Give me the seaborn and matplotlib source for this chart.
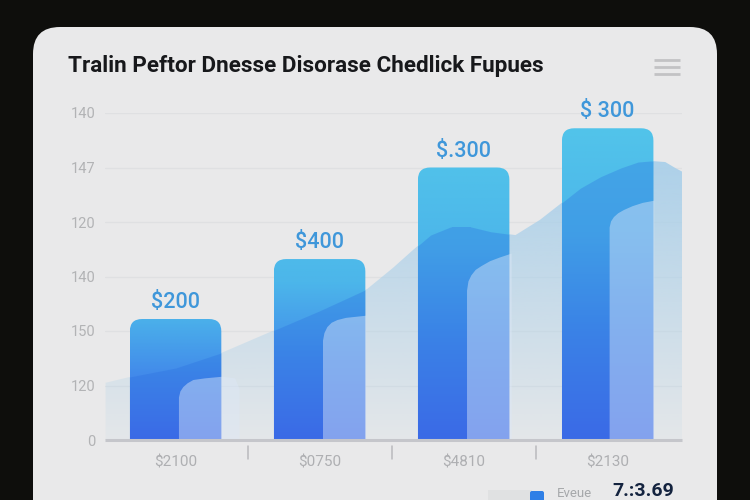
import numpy as np
import matplotlib
matplotlib.use("Agg")
import matplotlib.pyplot as plt
from matplotlib.colors import LinearSegmentedColormap, to_rgb
from matplotlib.patches import FancyBboxPatch
import seaborn as sns

title = "Tralin Peftor Dnesse Disorase Chedlick Fupues"
categories = ["$2100", "$0750", "$4810", "$2130"]
bar_values = [2.22, 3.32, 5.0, 5.72]
bar_labels = ["$200", "$400", "$.300", "$ 300"]
y_tick_labels = ["0", "120", "150", "140", "120", "147", "140"]

area_x = [-.486, -.3125, 0, .32, .69, 1.0, 1.33, 1.51, 1.65, 1.77, 1.91, 2.05, 2.19,
          2.36, 2.53, 2.69, 2.81, 2.95, 3.09, 3.21, 3.30, 3.40, 3.47, 3.52]
area_y = [1.05, 1.16, 1.32, 1.60, 2.02, 2.37, 2.77, 3.16, 3.49, 3.76, 3.91, 3.91, 3.82,
          3.76, 4.04, 4.37, 4.62, 4.83, 4.99, 5.10, 5.12, 5.10, 4.99, 4.92]

pale_x = [[.02, .03, .05, .08, .12, .20, .32, .41, .44],
          [1.02, 1.03, 1.05, 1.08, 1.12, 1.18, 1.25, 1.32],
          [2.02, 2.03, 2.05, 2.08, 2.12, 2.18, 2.25, 2.33],
          [3.01, 3.02, 3.04, 3.07, 3.11, 3.17, 3.24, 3.32]]
pale_y = [[.79, .90, .98, 1.05, 1.11, 1.14, 1.17, 1.14, .95],
          [1.83, 1.97, 2.08, 2.16, 2.21, 2.25, 2.27, 2.29],
          [2.75, 2.92, 3.03, 3.13, 3.20, 3.29, 3.36, 3.43],
          [3.91, 4.02, 4.10, 4.17, 4.23, 4.30, 4.36, 4.40]]

CARD = "#e9e9ea"
sns.set_theme(style="white")
plt.rcParams["font.family"] = ["Roboto", "DejaVu Sans"]

fig = plt.figure(figsize=(7.5, 5), dpi=100, facecolor="#0e0e0c")

# page furniture, in pixel coordinates
bg = fig.add_axes([0, 0, 1, 1], zorder=0)
bg.set_xlim(0, 750)
bg.set_ylim(500, 0)
bg.axis("off")
bg.add_patch(FancyBboxPatch((33, 27), 684, 520, boxstyle="round,pad=0,rounding_size=27",
                            fc=CARD, ec="none"))
for yy in (60, 67, 74):
    bg.plot([654, 680], [yy, yy], color="#c2c2c4", lw=2.0, solid_capstyle="butt")
bg.text(68, 66, title, fontsize=16.2, fontweight="bold", color="#17181b", va="center", ha="left")
bg.add_patch(plt.Rectangle((488, 490), 44, 12, fc="#e0e1e2", ec="none"))
bg.add_patch(FancyBboxPatch((530, 491), 14, 14, boxstyle="round,pad=0,rounding_size=2",
                            fc="#2f7fe6", ec="none"))
bg.text(557, 493.5, "Eveue", fontsize=9.5, color="#a6a8ab", va="center", ha="left")
bg.text(612, 491.5, "7.:3.69", fontsize=14, fontweight="bold", color="#14233f", va="center", ha="left")

ax = fig.add_axes([105 / 750, 60 / 500, 577 / 750, 327 / 500], zorder=1)
ax.patch.set_alpha(0)
sns.barplot(x=categories, y=bar_values, width=.635, color="#3d8be6", ax=ax, saturation=1)
xlim = (-.49, 3.516)
ylim = (0, 6)
ax.set_xlim(xlim)
ax.set_ylim(ylim)
ax.set_ylabel("")
ax.set_yticks(range(len(y_tick_labels)), y_tick_labels)
ax.tick_params(axis="y", length=0, pad=7, labelsize=10.5, labelcolor="#b2b3b5")
ax.tick_params(axis="x", length=0, pad=11, labelsize=11, labelcolor="#aeafb2")
ax.grid(axis="y", color="#dfe0e2", lw=.9)
ax.set_axisbelow(True)
sns.despine(ax=ax, left=True)
ax.spines["bottom"].set_color("#c5c6cb")
ax.spines["bottom"].set_linewidth(2.2)
ax.spines["bottom"].set_capstyle("butt")
ax.spines["bottom"].set_zorder(8)

# back area with a vertical fade
grad = np.zeros((256, 1, 4))
grad[..., :3] = to_rgb("#a9cfe9")
grad[..., 3] = np.linspace(.95, .08, 256)[:, None]
area_im = ax.imshow(grad, extent=(xlim[0], xlim[1], 0, 5.2), aspect="auto", zorder=1.5)
area_poly = ax.fill_between(area_x, 0, area_y, color="none", lw=0)
area_im.set_clip_path(area_poly.get_paths()[0], ax.transData)

# rounded gradient bars built from the seaborn bars
cmap = LinearSegmentedColormap.from_list("bar", ["#4468ea", "#428aea", "#4cb6ea", "#52c4ea"])
aspect = (144 / 54.5)
tallest = max(bar_values)
for rect, lab in zip(list(ax.patches), bar_labels):
    x0, w, h = rect.get_x(), rect.get_width(), rect.get_height()
    rect.set_visible(False)
    rp = FancyBboxPatch((x0, -1), w, h + 1, boxstyle="round,pad=0,rounding_size=.085",
                        mutation_aspect=aspect, fc="none", ec="none", transform=ax.transData)
    ax.add_patch(rp)
    top_shade = (h / tallest) ** .5
    im = ax.imshow(np.linspace(top_shade, 0, 256)[:, None], extent=(x0, x0 + w, 0, h), cmap=cmap,
                   vmin=0, vmax=1, aspect="auto", zorder=2)
    im.set_clip_path(rp)
    ov = ax.fill_between(area_x, 0, area_y, color="#2a6fe0", alpha=.33, lw=0, zorder=3)
    ov.set_clip_path(rp)
    ax.text(x0 + w / 2, h + .30, lab, ha="center", va="center", fontsize=15.5,
            fontweight="medium", color="#3f97da", zorder=6)

for xs, ys in zip(pale_x, pale_y):
    ax.fill_between(xs, 0, ys, color="#dde8f8", alpha=.45, lw=0, zorder=4)

ax.set_xlim(xlim)
ax.set_ylim(ylim)

# separators under the axis
for sx in (.5, 1.5, 2.5):
    ax.plot([sx, sx], [-6 / 327, -19 / 327], color="#b9babd", lw=1.1, clip_on=False,
            transform=ax.get_xaxis_transform())

fig.savefig("out.png", dpi=100, facecolor=fig.get_facecolor())
